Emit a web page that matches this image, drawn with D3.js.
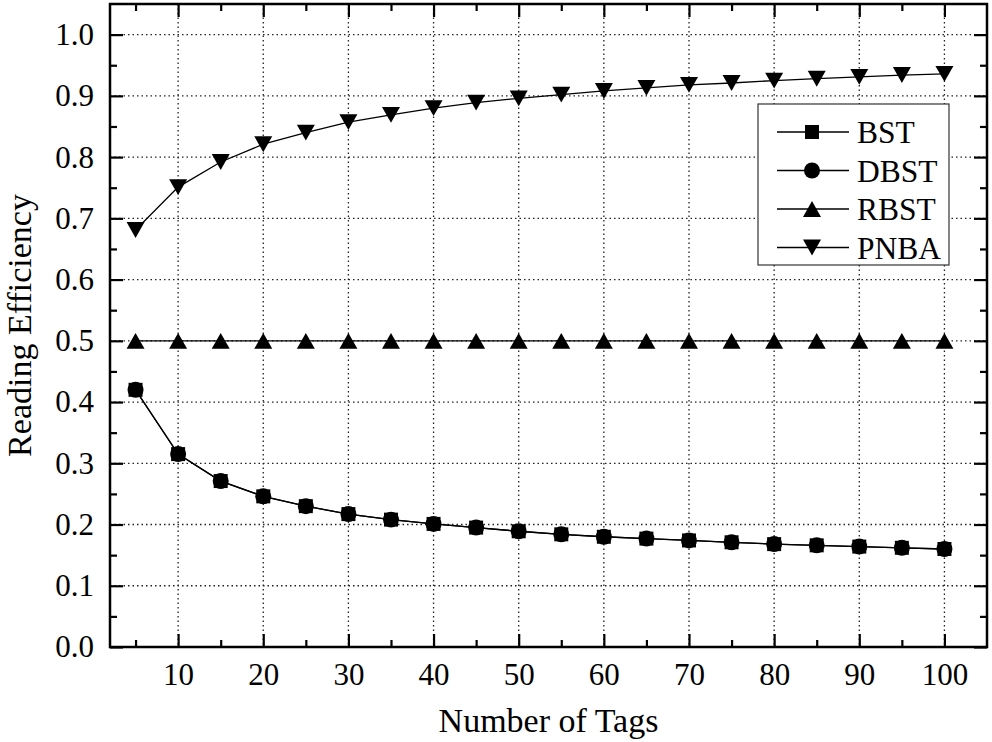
<!DOCTYPE html>
<html>
<head>
<meta charset="utf-8">
<script src="https://cdn.jsdelivr.net/npm/d3@7"></script>
<style>
  body { margin: 0; background: #fff; }
  svg text { font-family: "Liberation Serif", "Times New Roman", serif; fill: #000; }
</style>
</head>
<body>
<div id="chart"></div>
<script>
// data
var tags = [5, 10, 15, 20, 25, 30, 35, 40, 45, 50, 55, 60, 65, 70, 75, 80, 85, 90, 95, 100];
var bst  = [0.420, 0.315, 0.271, 0.246, 0.230, 0.217, 0.208, 0.201, 0.195, 0.189,
            0.184, 0.180, 0.177, 0.174, 0.171, 0.168, 0.166, 0.164, 0.162, 0.160];
var dbst = [0.420, 0.315, 0.271, 0.246, 0.230, 0.217, 0.208, 0.201, 0.195, 0.189,
            0.184, 0.180, 0.177, 0.174, 0.171, 0.168, 0.166, 0.164, 0.162, 0.160];
var rbst = [0.5, 0.5, 0.5, 0.5, 0.5, 0.5, 0.5, 0.5, 0.5, 0.5,
            0.5, 0.5, 0.5, 0.5, 0.5, 0.5, 0.5, 0.5, 0.5, 0.5];
var pnba = [0.681, 0.751, 0.792, 0.821, 0.840, 0.857, 0.869, 0.880, 0.889, 0.896,
            0.902, 0.908, 0.913, 0.918, 0.921, 0.925, 0.928, 0.931, 0.934, 0.936];
var xTicks = [10, 20, 30, 40, 50, 60, 70, 80, 90, 100];
var xMinor = [5, 15, 25, 35, 45, 55, 65, 75, 85, 95];
var yTicks = [0.0, 0.1, 0.2, 0.3, 0.4, 0.5, 0.6, 0.7, 0.8, 0.9, 1.0];
var yMinor = [0.05, 0.15, 0.25, 0.35, 0.45, 0.55, 0.65, 0.75, 0.85, 0.95];
var seriesNames = ["BST", "DBST", "RBST", "PNBA"];

var width = 992, height = 742;
var pLeft = 110, pRight = 987, pTop = 4, pBottom = 647;

var x = d3.scaleLinear().domain([2, 105]).range([pLeft, pRight]);
var y = d3.scaleLinear().domain([0, 1.05]).range([pBottom, pTop]);

// triangles centred on their bounding box, like Origin draws them
function tri(dir) {
    return {
        draw: function(ctx, size) {
            var w = Math.sqrt(size), h = w * 0.88;
            ctx.moveTo(-w / 2, -dir * h / 2);
            ctx.lineTo(w / 2, -dir * h / 2);
            ctx.lineTo(0, dir * h / 2);
            ctx.closePath();
        }
    };
}
var shapes = [
    d3.symbol().type(d3.symbolSquare).size(196),
    d3.symbol().type(d3.symbolCircle).size(201),
    d3.symbol().type(tri(-1)).size(324),
    d3.symbol().type(tri(1)).size(324)
];
var allSeries = [bst, dbst, rbst, pnba];

var svg = d3.select("#chart").append("svg")
    .attr("width", width)
    .attr("height", height);

// grid
var grid = svg.append("g").attr("class", "grid")
    .attr("stroke", "#222")
    .attr("stroke-width", 1.3)
    .attr("stroke-dasharray", "1.5,3");
grid.selectAll(".gx").data(xTicks).enter().append("line")
    .attr("x1", function(d) { return x(d); })
    .attr("x2", function(d) { return x(d); })
    .attr("y1", pTop).attr("y2", pBottom);
grid.selectAll(".gy").data(yTicks.slice(1)).enter().append("line")
    .attr("y1", function(d) { return y(d); })
    .attr("y2", function(d) { return y(d); })
    .attr("x1", pLeft).attr("x2", pRight);

// axes, ticks inward on all four sides
svg.append("g").attr("transform", "translate(0," + pBottom + ")")
    .call(d3.axisBottom(x).tickValues(xTicks).tickSizeInner(-13).tickSizeOuter(0).tickPadding(16));
svg.append("g").attr("transform", "translate(0," + pTop + ")")
    .call(d3.axisTop(x).tickValues(xTicks).tickSizeInner(-13).tickSizeOuter(0).tickFormat(""));
svg.append("g").attr("transform", "translate(" + pLeft + ",0)")
    .call(d3.axisLeft(y).tickValues(yTicks).tickSizeInner(-13).tickSizeOuter(0).tickPadding(16)
        .tickFormat(d3.format(".1f")));
svg.append("g").attr("transform", "translate(" + pRight + ",0)")
    .call(d3.axisRight(y).tickValues(yTicks).tickSizeInner(-13).tickSizeOuter(0).tickFormat(""));

svg.append("g").attr("transform", "translate(0," + pBottom + ")")
    .call(d3.axisBottom(x).tickValues(xMinor).tickSize(-7).tickFormat(""));
svg.append("g").attr("transform", "translate(0," + pTop + ")")
    .call(d3.axisTop(x).tickValues(xMinor).tickSize(-7).tickFormat(""));
svg.append("g").attr("transform", "translate(" + pLeft + ",0)")
    .call(d3.axisLeft(y).tickValues(yMinor).tickSize(-7).tickFormat(""));
svg.append("g").attr("transform", "translate(" + pRight + ",0)")
    .call(d3.axisRight(y).tickValues(yMinor).tickSize(-7).tickFormat(""));

svg.selectAll(".domain").remove();
svg.selectAll(".tick line").attr("stroke", "#000").attr("stroke-width", 2.2);
svg.selectAll(".tick text").style("font-size", "31px");

// frame
svg.append("rect")
    .attr("x", pLeft).attr("y", pTop)
    .attr("width", pRight - pLeft).attr("height", pBottom - pTop)
    .attr("fill", "none").attr("stroke", "#000").attr("stroke-width", 2.5);

// series
var line = d3.line()
    .x(function(d, i) { return x(tags[i]); })
    .y(function(d) { return y(d); });

allSeries.forEach(function(vals, k) {
    var g = svg.append("g").attr("class", "series-" + seriesNames[k]);
    g.append("path")
        .attr("d", line(vals))
        .attr("fill", "none")
        .attr("stroke", "#000")
        .attr("stroke-width", 1.3);
    g.selectAll("path.pt").data(vals).enter().append("path")
        .attr("class", "pt")
        .attr("d", shapes[k])
        .attr("transform", function(d, i) { return "translate(" + x(tags[i]) + "," + y(d) + ")"; })
        .attr("fill", "#000");
});

// legend
var legend = svg.append("g").attr("class", "legend");
legend.append("rect")
    .attr("x", 758).attr("y", 104)
    .attr("width", 191).attr("height", 161)
    .attr("fill", "#fff").attr("stroke", "#333").attr("stroke-width", 1.2);
var items = legend.selectAll(".item").data(seriesNames).enter().append("g")
    .attr("transform", function(d, i) { return "translate(0," + (132 + i * 38.5) + ")"; });
items.append("line")
    .attr("x1", 777).attr("x2", 849)
    .attr("stroke", "#000").attr("stroke-width", 1.3);
items.append("path")
    .attr("d", function(d, i) { return shapes[i](); })
    .attr("transform", "translate(812,0)")
    .attr("fill", "#000");
items.append("text")
    .attr("x", 857).attr("y", 11)
    .style("font-size", "31.5px")
    .text(function(d) { return d; });

// axis titles
svg.append("text")
    .attr("x", (pLeft + pRight) / 2).attr("y", 732)
    .attr("text-anchor", "middle")
    .style("font-size", "34px")
    .text("Number of Tags");
svg.append("text")
    .attr("transform", "translate(31," + ((pTop + pBottom) / 2) + ") rotate(-90)")
    .attr("text-anchor", "middle")
    .style("font-size", "34px")
    .text("Reading Efficiency");
</script>
</body>
</html>
